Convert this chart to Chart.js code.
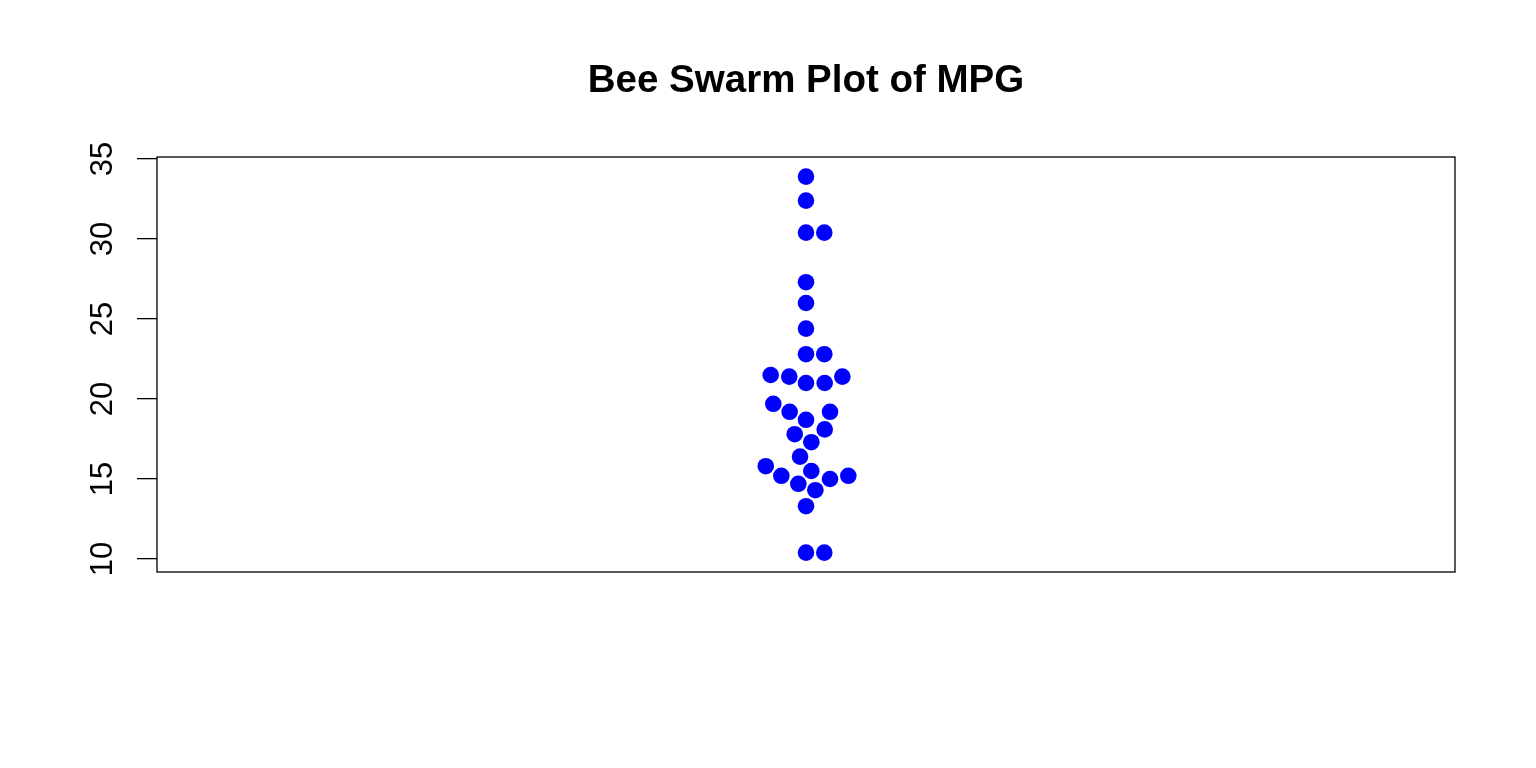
<!DOCTYPE html>
<html>
<head>
<meta charset="utf-8">
<script src="https://cdn.jsdelivr.net/npm/chart.js@4"></script>
<style>
html,body{margin:0;padding:0;background:#fff;}
#wrap{width:1536px;height:768px;position:relative;}
</style>
</head>
<body>
<div id="wrap"><canvas id="c" width="1536" height="768"></canvas></div>
<script>
const chartTitle = "Bee Swarm Plot of MPG";
const mpgValues = [33.9, 32.4, 30.4, 30.4, 27.3, 26.0, 24.4, 22.8, 22.8, 21.5, 21.4, 21.4, 21.0, 21.0, 19.7, 19.2, 19.2, 18.7, 18.1, 17.8, 17.3, 16.4, 15.8, 15.5, 15.2, 15.2, 15.0, 14.7, 14.3, 13.3, 10.4, 10.4];
const swarmX = [1, 1, 1, 1.0141, 1, 1, 1, 1, 1.0141, 0.9728, 0.9871, 1.0280, 1, 1.0144, 0.9748, 0.9874, 1.0185, 1, 1.0144, 0.9913, 1.0041, 0.9954, 0.9690, 1.0041, 0.9810, 1.0326, 1.0185, 0.9941, 1.0072, 1, 1, 1.0141];
const yTicks = [10, 15, 20, 25, 30, 35];

const points = mpgValues.map((v, i) => ({ x: swarmX[i], y: v }));

const framePlugin = {
  id: 'frame',
  afterDraw(chart) {
    const ctx = chart.ctx;
    const a = chart.chartArea;
    const ys = chart.scales.y;
    ctx.save();
    ctx.strokeStyle = '#000';
    ctx.lineWidth = 1.3;
    ctx.strokeRect(a.left, a.top, a.right - a.left, a.bottom - a.top);
    // tick labels (rotated like R)
    ctx.fillStyle = '#000';
    ctx.font = '31px "Liberation Sans", Arial, sans-serif';
    ctx.textAlign = 'center';
    ctx.textBaseline = 'alphabetic';
    ys.ticks.forEach(t => {
      const py = ys.getPixelForValue(t.value);
      ctx.save();
      ctx.translate(112, py);
      ctx.rotate(-Math.PI / 2);
      ctx.fillText(String(t.value), 0, 0);
      ctx.restore();
    });
    // title
    ctx.font = 'bold 38.5px "Liberation Sans", Arial, sans-serif';
    ctx.textAlign = 'center';
    ctx.fillText(chartTitle, (a.left + a.right) / 2, 92);
    ctx.restore();
  }
};

new Chart(document.getElementById('c'), {
  type: 'scatter',
  data: {
    datasets: [{
      data: points,
      backgroundColor: '#0000FF',
      borderColor: '#0000FF',
      borderWidth: 0,
      pointRadius: 8.3,
      pointHoverRadius: 8.3
    }]
  },
  options: {
    responsive: false,
    animation: false,
    events: [],
    layout: { padding: { top: 157, right: 81, bottom: 196, left: 0 } },
    plugins: { legend: { display: false }, tooltip: { enabled: false }, title: { display: false } },
    scales: {
      x: { type: 'linear', min: 0.5, max: 1.5, display: false },
      y: {
        type: 'linear',
        min: 9.1875,
        max: 35.125,
        afterBuildTicks: s => { s.ticks = yTicks.map(v => ({ value: v })); },
        afterFit: s => { s.width = 157; },
        ticks: { display: false },
        border: { display: false },
        grid: { display: true, drawOnChartArea: false, drawTicks: true, tickLength: 20, color: '#000', lineWidth: 1.3 }
      }
    }
  },
  plugins: [framePlugin]
});
</script>
</body>
</html>
